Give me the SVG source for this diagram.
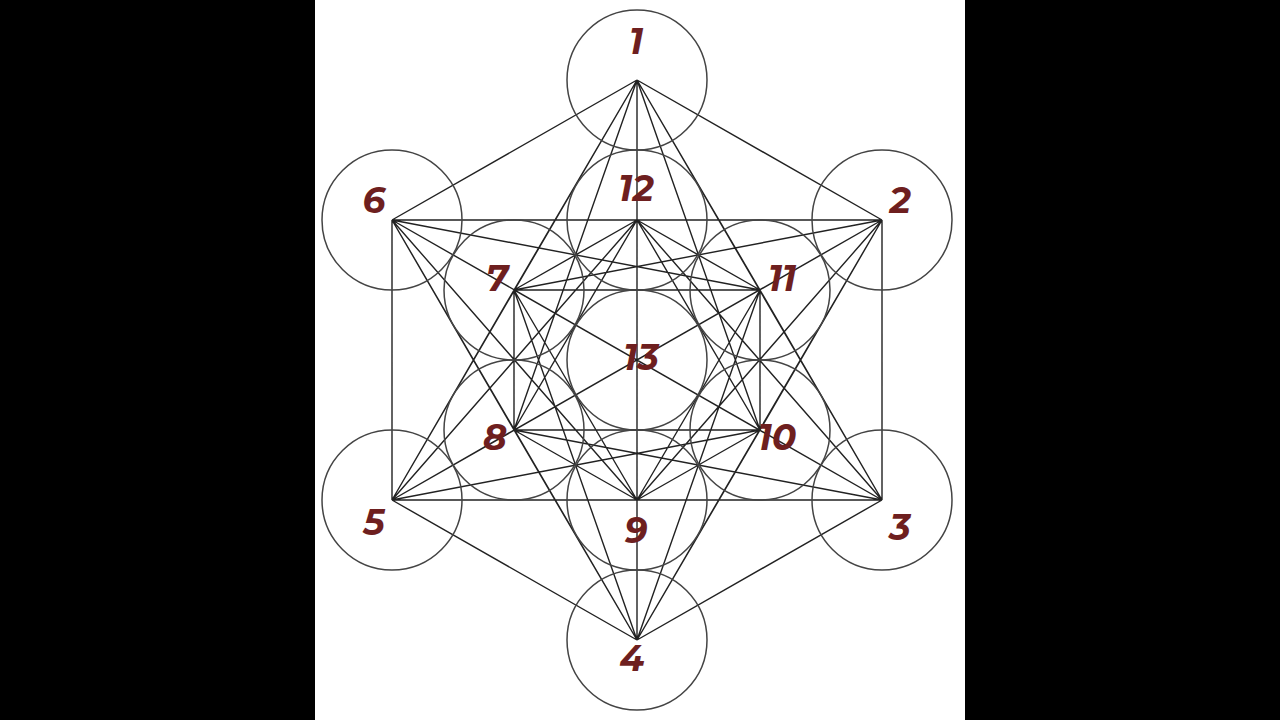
<svg xmlns="http://www.w3.org/2000/svg" width="1280" height="720" viewBox="0 0 1280 720">
<style>
.c{fill:none;stroke:#444;stroke-width:1.5}
.l{fill:none;stroke:#222;stroke-width:1.4}
.t{font-family:"Montserrat","Liberation Sans",sans-serif;font-weight:bold;font-style:italic;font-size:36px;fill:#6e1f1f;text-anchor:middle}
</style>
<rect width="1280" height="720" fill="#000"/>
<rect x="315" y="0" width="650" height="720" fill="#fff"/>
<g id="connectors">
<path class="l" d="M637 80L882 220M637 80L882 500M637 80L637 640M637 80L392 500M637 80L392 220M637 80L514 290M637 80L514 430M637 80L760 430M637 80L760 290
M882 220L882 500M882 220L637 640M882 220L392 500M882 220L392 220M882 220L514 290M882 220L514 430M882 220L637 500M882 220L760 430M882 220L637 220
M882 500L637 640M882 500L392 500M882 500L392 220M882 500L514 290M882 500L514 430M882 500L637 500M882 500L760 290M882 500L637 220
M637 640L392 500M637 640L392 220M637 640L514 290M637 640L514 430M637 640L760 430M637 640L760 290
M392 500L392 220M392 500L514 290M392 500L514 430M392 500L637 500M392 500L760 430M392 500L637 220
M392 220L514 430M392 220L637 500M392 220L760 290M392 220L637 220
M514 290L514 430M514 290L637 500M514 290L760 290M514 290L637 220
M514 430L637 500M514 430L760 430M514 430L637 220
M637 500L760 430M637 500L760 290
M760 430L760 290M760 430L637 220M760 290L637 220"/>
</g>
<g id="n1"><circle class="c" cx="637" cy="80" r="70"/><text class="t" x="636" y="54">1</text></g>
<g id="n2"><circle class="c" cx="882" cy="220" r="70"/><text class="t" x="900" y="213">2</text></g>
<g id="n3"><circle class="c" cx="882" cy="500" r="70"/><text class="t" x="900" y="540">3</text></g>
<g id="n4"><circle class="c" cx="637" cy="640" r="70"/><text class="t" x="632" y="671">4</text></g>
<g id="n5"><circle class="c" cx="392" cy="500" r="70"/><text class="t" x="374" y="535">5</text></g>
<g id="n6"><circle class="c" cx="392" cy="220" r="70"/><text class="t" x="374" y="213">6</text></g>
<g id="n7"><circle class="c" cx="514" cy="290" r="70"/><text class="t" x="497" y="291">7</text></g>
<g id="n8"><circle class="c" cx="514" cy="430" r="70"/><text class="t" x="495" y="450">8</text></g>
<g id="n9"><circle class="c" cx="637" cy="500" r="70"/><text class="t" x="636" y="543">9</text></g>
<g id="n10"><circle class="c" cx="760" cy="430" r="70"/><text class="t" x="777" y="450">10</text></g>
<g id="n11"><circle class="c" cx="760" cy="290" r="70"/><text class="t" x="782" y="291">11</text></g>
<g id="n12"><circle class="c" cx="637" cy="220" r="70"/><text class="t" x="636" y="201">12</text></g>
<g id="n13"><circle class="c" cx="637" cy="360" r="70"/><text class="t" x="641" y="370">13</text></g>
</svg>
